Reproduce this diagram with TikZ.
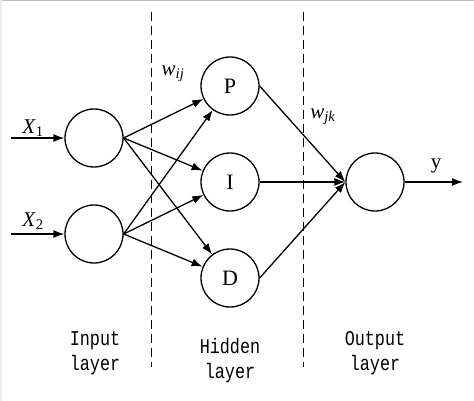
\documentclass[tikz,border=0pt]{standalone}
\usepackage{fontspec}
\setmainfont{Liberation Serif}
\setmonofont[FakeStretch=0.8]{Liberation Mono}
\usetikzlibrary{positioning, arrows.meta}

\begin{document}
\begin{tikzpicture}[x=1pt, y=1pt, node distance={96pt}, line width=1.3pt, >={Latex[length=11pt, width=8pt]},
  neuron/.style = {draw, circle, minimum size=58pt, inner sep=0pt, font=\fontsize{22}{24}\selectfont},
  layertext/.style = {align=center, font=\ttfamily\fontsize{21}{25}\selectfont},
  weight/.style = {font=\fontsize{21}{22}\selectfont, inner sep=0pt},
  divider/.style = {line width=1pt, dash pattern=on 9pt off 5pt}]
\useasboundingbox (0,0) rectangle (474,-401);
\draw[gray!50, line width=1.5pt] (0,-0.5) -- (474,-0.5);
\draw[gray!15, line width=2pt] (1,0) -- (1,-401);
% neurons
\node[neuron] (in1) at (94,-138) {};
\node[neuron] (in2) [below of=in1] {};
\node[neuron] (I) at (230,-182) {I};
\node[neuron] (P) [above of=I] {P};
\node[neuron] (D) [below of=I] {D};
\node[neuron] (out) at (375,-182) {};
% inputs and output
\coordinate (x1) at (11,-138);
\coordinate (x2) at (11,-234);
\coordinate (y) at (463,-182);
\draw[->] (x1) -- (in1);
\draw[->] (x2) -- (in2);
\draw[->] (out) -- (y);
\node[weight] at (33,-128) {\textit{X}\textsubscript{1}};
\node[weight] at (33,-221) {\textit{X}\textsubscript{2}};
\node[weight] at (436,-166) {y};
% weights
\foreach \a in {in1,in2}
  \foreach \b in {P,I,D}
    \draw[->] (\a.east) -- (\b);
\foreach \b in {P,I,D}
  \draw[->] (\b.east) -- (out.west);
\node[weight] at (173,-74) {\textit{w}\textsubscript{\textit{ij}}};
\node[weight] at (323,-117) {\textit{w}\textsubscript{\textit{jk}}};
% layers
\coordinate (d1a) at (151,-12);
\coordinate (d1b) at (151,-367);
\coordinate (d2a) at (303,-12);
\coordinate (d2b) at (303,-367);
\draw[divider] (d1a) -- (d1b);
\draw[divider] (d2a) -- (d2b);
\node[layertext] (inlayer) at (95,-353) {Input\\layer};
\node[layertext] (hidlayer) at (230,-361) {Hidden\\layer};
\node[layertext] (outlayer) at (375,-353) {Output\\layer};
\end{tikzpicture}
\end{document}
